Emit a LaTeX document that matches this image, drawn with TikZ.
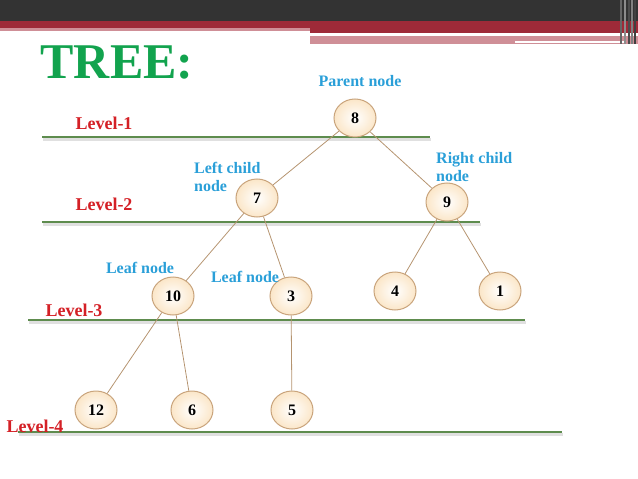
\documentclass[tikz,border=0pt]{standalone}
\usepackage{fontspec}
\setmainfont{Liberation Serif}
\usepackage{tikz}
\usetikzlibrary{positioning,shapes.geometric}

\definecolor{barDark}{HTML}{333333}
\definecolor{barRed}{HTML}{9E2A38}
\definecolor{barPink}{HTML}{CF8F97}
\definecolor{titleGreen}{HTML}{12A34E}
\definecolor{levelRed}{HTML}{D42026}
\definecolor{lineGreen}{HTML}{5E8C4E}
\definecolor{noteBlue}{HTML}{2A9FD8}
\definecolor{ringTan}{HTML}{C9A47C}
\definecolor{fillCream}{HTML}{FBE6C8}

\begin{document}
\begin{tikzpicture}[x=1pt,y=-1pt,
		treenode/.style={ellipse,draw=ringTan,line width=1pt,inner color=white,outer color=fillCream,
			minimum width=42pt,minimum height=38pt,inner sep=0pt,font=\fontsize{16}{16}\selectfont\bfseries},
		edge/.style={draw=ringTan!90!black,line width=0.8pt},
		levelline/.style={draw=lineGreen,line width=2.6pt},
		levelshadow/.style={draw=black!12,line width=2.6pt},
		levellabel/.style={text=levelRed,font=\fontsize{18}{18}\selectfont\bfseries,inner sep=0pt},
		note/.style={text=noteBlue,font=\fontsize{16}{18}\selectfont\bfseries,inner sep=0pt,align=left}]
			\useasboundingbox (0,0) rectangle (638,479);
			
			% header bars
			
			\fill[barDark] (0,0) rectangle (638,21);
			\fill[barRed] (0,21) rectangle (638,28);
			\fill[barPink] (0,28) rectangle (310,31);
			\fill[barRed] (310,28) rectangle (638,33);
			\fill[barPink] (310,33) rectangle (638,44);
			\fill[white] (310,33) rectangle (638,36);
			\fill[white] (480,35) rectangle (590,36);
			\fill[white] (515,41) rectangle (625,42.5);
			\foreach \x/\c in {620/60,624/45,628/70,631/50,634/75} {
				\fill[black!\c] (\x,0) rectangle ++(2,44);
			}
			
			\node[text=titleGreen,font=\fontsize{50}{50}\selectfont\bfseries,inner sep=0pt] (title) at (117,62) {TREE:};
			
			% levels
			
			\foreach \y/\xa/\xb in {137/42/430,222/42/480,320/28/525,432/18/562} {
				\draw[levelshadow] (\xa+1,\y+2.5) -- (\xb+1,\y+2.5);
				\draw[levelline] (\xa,\y) -- (\xb,\y);
			}
			\node[levellabel] (L1) at (104,123) {Level-1};
			\node[levellabel] (L2) at (104,204) {Level-2};
			\node[levellabel] (L3) at (74,310) {Level-3};
			\node[levellabel] (L4) at (35,426) {Level-4};
			
			% tree
			
			\node[treenode] (n8) at (355,118) {8};
			\node[treenode] (n7) at (257,198) {7};
			\node[treenode] (n9) at (447,202) {9};
			\node[treenode] (n10) at (173,296) {10};
			\node[treenode] (n3) at (291,296) {3};
			\node[treenode] (n4) at (395,291) {4};
			\node[treenode] (n1) at (500,291) {1};
			\node[treenode] (n12) at (96,410) {12};
			\node[treenode] (n6) at (192,410) {6};
			\node[treenode] (n5) at (292,410) {5};
			
			\foreach \a/\b in {8/7,8/9,7/10,7/3,9/4,9/1,10/12,10/6,3/5} {
				\draw[edge] (n\a) -- (n\b);
			}
			
			% notes
			
			\node[note] (parent) at (360,81) {Parent node};
			\node[note,anchor=west] (leftchild) at (194,177) {Left child\\node};
			\node[note,anchor=west] (rightchild) at (436,167) {Right child\\node};
			\node[note] (leaf1) at (140,268) {Leaf node};
			\node[note] (leaf2) at (245,277) {Leaf node};
			
		\end{tikzpicture}
\end{document}
